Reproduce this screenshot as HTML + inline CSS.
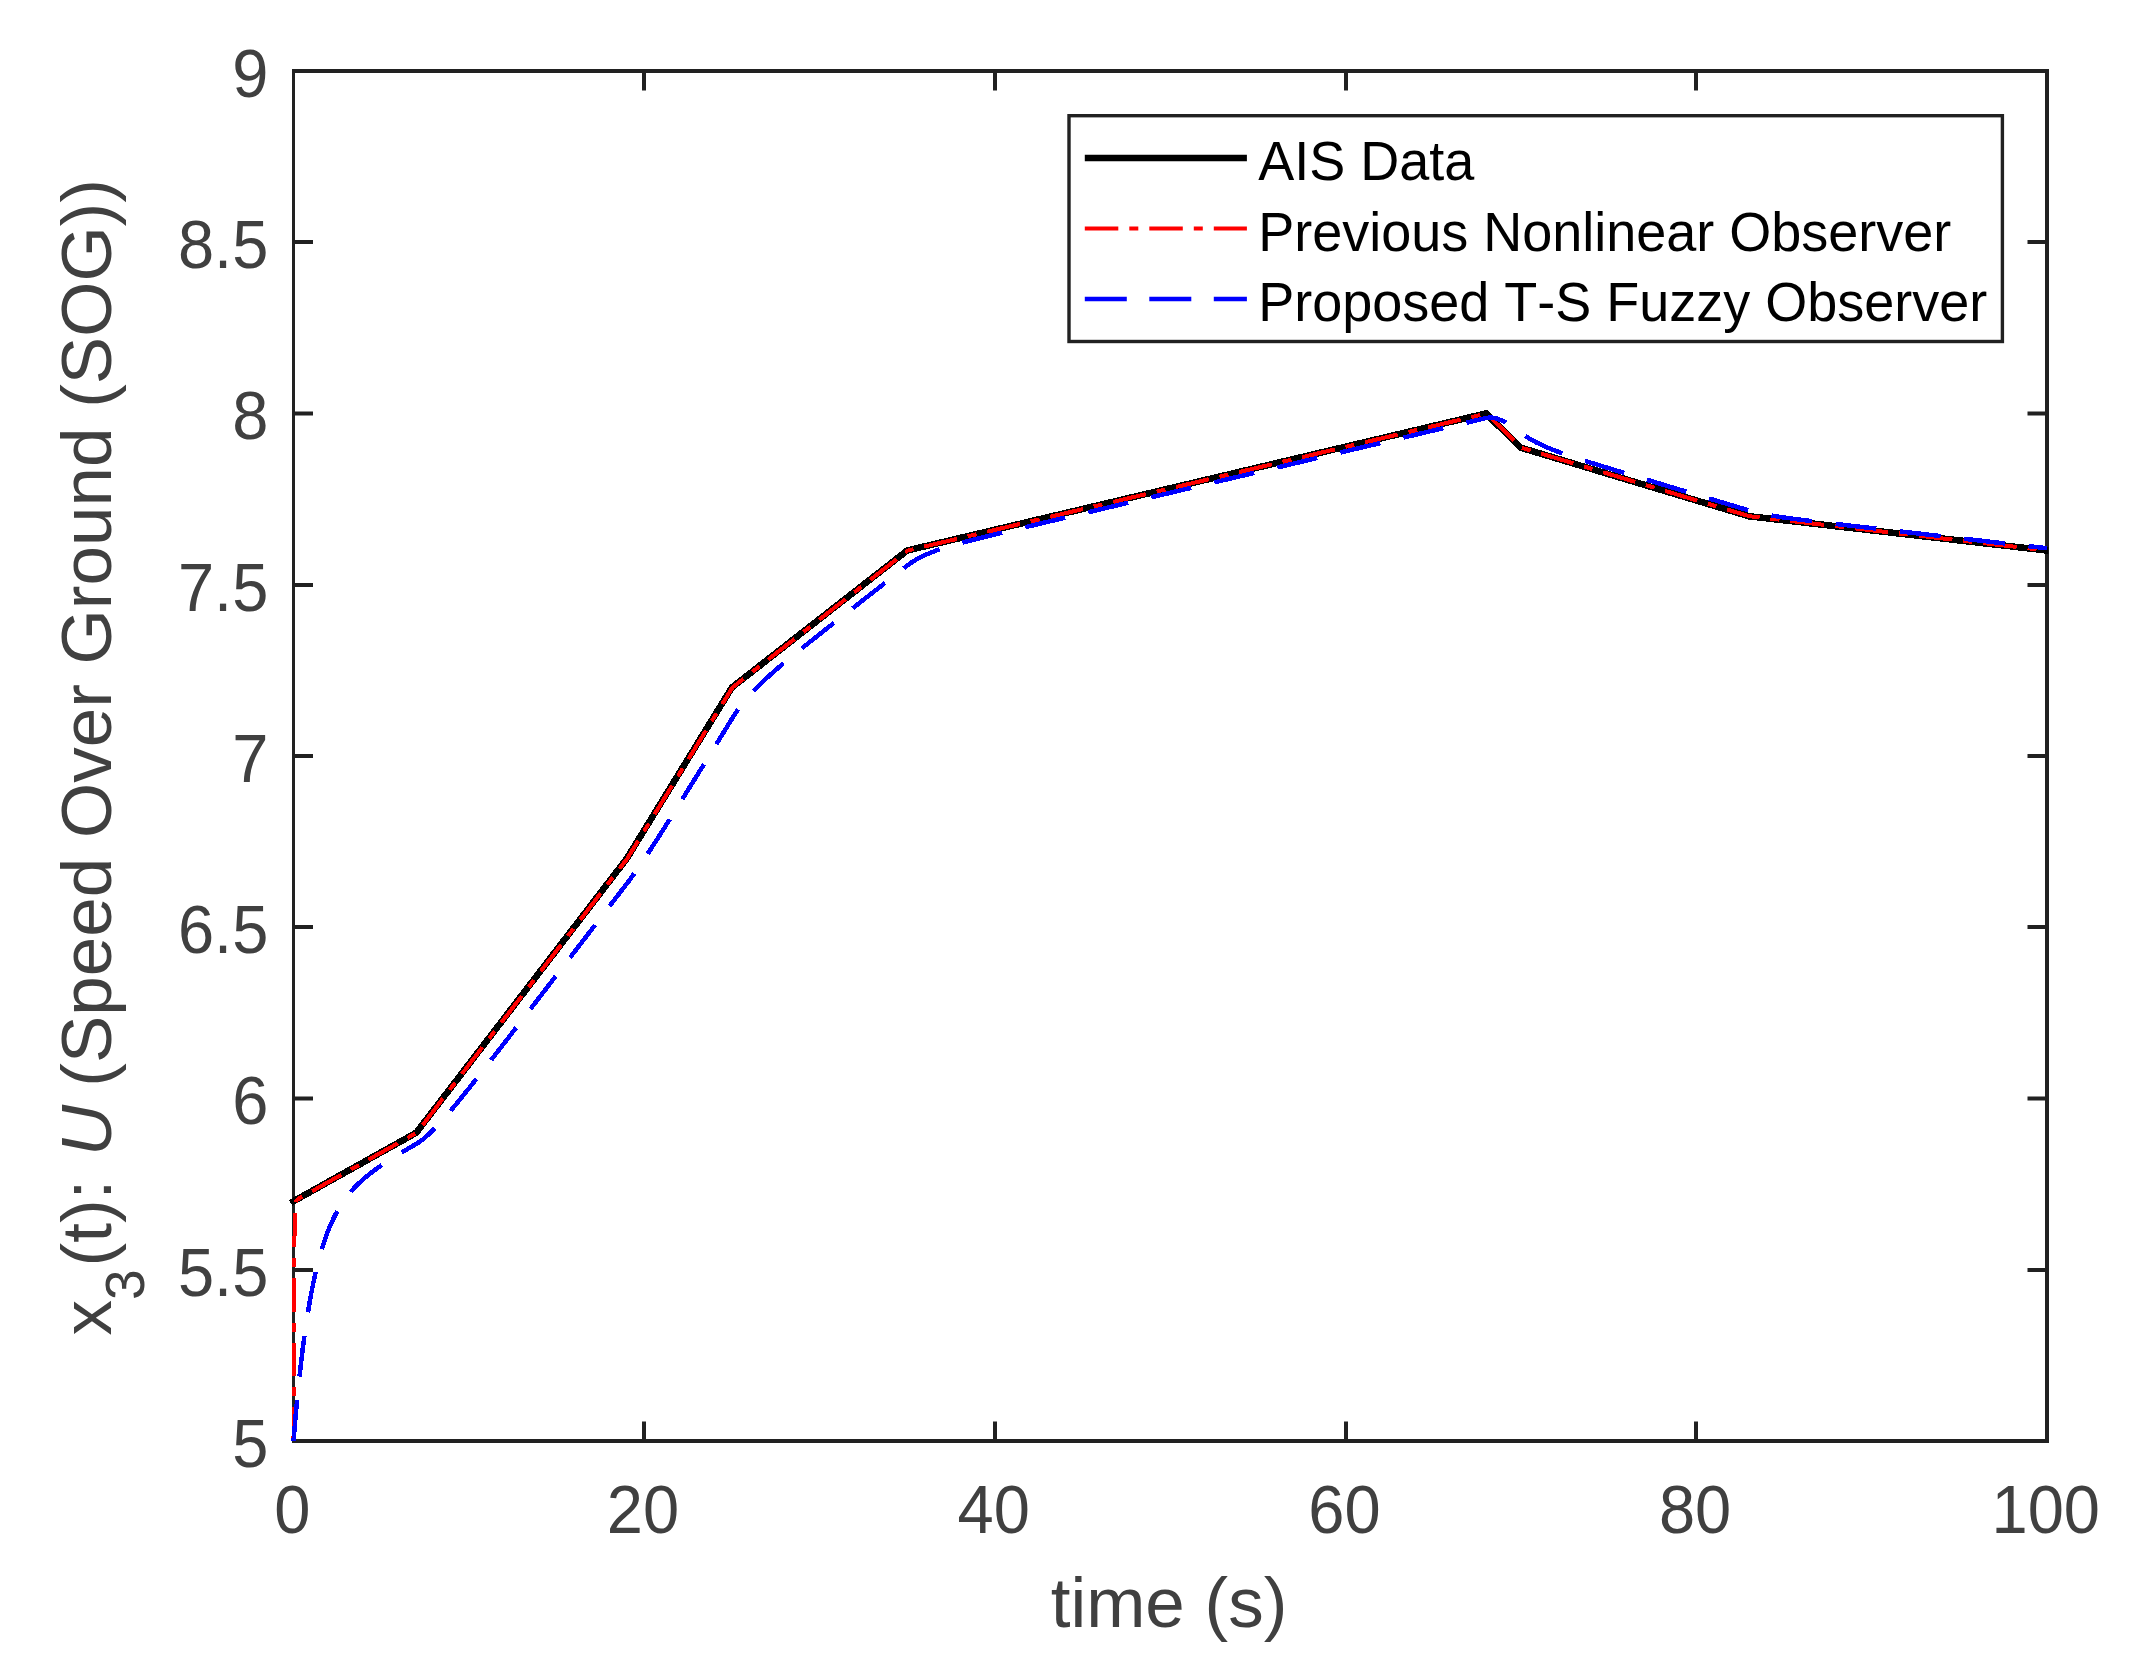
<!DOCTYPE html>
<html lang="en"><head><meta charset="utf-8"><title>x3(t): U (Speed Over Ground (SOG))</title>
<style>html,body{margin:0;padding:0;background:#fff}body{width:2131px;height:1661px;overflow:hidden}svg{display:block}text{font-family:'Liberation Sans', Arial, Helvetica, sans-serif;font-kerning:none}</style></head><body>
<svg width="2131" height="1661" viewBox="0 0 2131 1661">
<rect width="2131" height="1661" fill="#fff"/>
<g fill="#212121">
<rect x="292" y="69" width="3" height="1374"/>
<rect x="2045" y="69" width="4" height="1374"/>
<rect x="292" y="69" width="1757" height="4"/>
<rect x="292" y="1439" width="1757" height="4"/>
</g>
<g stroke="#212121" stroke-width="4" fill="none">
<path d="M644.00 1441.00V1421.50M644.00 71.00V90.50"/>
<path d="M995.00 1441.00V1421.50M995.00 71.00V90.50"/>
<path d="M1346.00 1441.00V1421.50M1346.00 71.00V90.50"/>
<path d="M1696.00 1441.00V1421.50M1696.00 71.00V90.50"/>
<path d="M293.50 1270.00H313.00M2047.00 1270.00H2027.50"/>
<path d="M293.50 1098.50H313.00M2047.00 1098.50H2027.50"/>
<path d="M293.50 927.00H313.00M2047.00 927.00H2027.50"/>
<path d="M293.50 756.00H313.00M2047.00 756.00H2027.50"/>
<path d="M293.50 585.00H313.00M2047.00 585.00H2027.50"/>
<path d="M293.50 413.50H313.00M2047.00 413.50H2027.50"/>
<path d="M293.50 242.00H313.00M2047.00 242.00H2027.50"/>
</g>
<g fill="#404040" font-size="65">
<text transform="translate(292.30 1533.3) scale(1 1.04)" text-anchor="middle">0</text>
<text transform="translate(643.00 1533.3) scale(1 1.04)" text-anchor="middle">20</text>
<text transform="translate(993.70 1533.3) scale(1 1.04)" text-anchor="middle">40</text>
<text transform="translate(1344.40 1533.3) scale(1 1.04)" text-anchor="middle">60</text>
<text transform="translate(1695.10 1533.3) scale(1 1.04)" text-anchor="middle">80</text>
<text transform="translate(2045.80 1533.3) scale(1 1.04)" text-anchor="middle">100</text>
<text transform="translate(268.3 1466.80) scale(1 1.04)" text-anchor="end">5</text>
<text transform="translate(268.3 1295.55) scale(1 1.04)" text-anchor="end">5.5</text>
<text transform="translate(268.3 1124.30) scale(1 1.04)" text-anchor="end">6</text>
<text transform="translate(268.3 953.05) scale(1 1.04)" text-anchor="end">6.5</text>
<text transform="translate(268.3 781.80) scale(1 1.04)" text-anchor="end">7</text>
<text transform="translate(268.3 610.55) scale(1 1.04)" text-anchor="end">7.5</text>
<text transform="translate(268.3 439.30) scale(1 1.04)" text-anchor="end">8</text>
<text transform="translate(268.3 268.05) scale(1 1.04)" text-anchor="end">8.5</text>
<text transform="translate(268.3 96.80) scale(1 1.04)" text-anchor="end">9</text>
</g>
<g fill="#404040" font-size="71">
<text x="1169" y="1626.5" text-anchor="middle">time (s)</text>
<text transform="translate(111.3 1335.5) rotate(-90)" x="0" y="0">x<tspan font-size="55" dy="32.2">3</tspan><tspan x="69.1" dy="-32.2">(t): </tspan><tspan font-style="italic" dx="3.9">U</tspan><tspan dx="-1.6"> (Speed Over Ground (SOG))</tspan></text>
</g>
<defs><clipPath id="c"><rect x="280" y="60" width="1768.3" height="1383"/></clipPath></defs>
<g fill="none" clip-path="url(#c)" stroke-linejoin="miter" shape-rendering="crispEdges">
<path d="M293.5 1201.25L416.25 1132.75L626.66 858.75L731.88 687.5L907.23 550.5L1485.88 413.5L1520.95 447.75L1748.9 516.25L2047 550.5" stroke="#000" stroke-width="6.6" stroke-linecap="square"/>
<path d="M293.5 1441L293.85 1324.29L294.2 1264.27L294.55 1233.36L294.9 1217.4L295.25 1209.11L295.6 1204.76L295.97 1202.34L296.36 1200.99L296.8 1200.16L297.39 1199.52L298.62 1198.7L416.47 1132.88L417.38 1131.91L627.12 858.79L637.19 842.48L732.16 687.95L733.03 687.06L741.92 680.06L907.51 550.73L908.49 550.35L1486.04 413.61L1486.51 413.8L1487.55 414.64L1521.21 447.46L1522.05 447.88L1528.7 449.92L1749.38 516.2L1757.64 517.19L2047 550.44" stroke="#f00" stroke-width="4" stroke-dasharray="33.6 11 9.1 11"/>
<path d="M293.5 1441L295.67 1415.38L297.88 1392L300.09 1371.02L302.3 1352.18L304.51 1335.25L306.76 1319.78L309 1305.88L311.28 1293.18L313.56 1281.76L315.87 1271.31L318.22 1261.77L320.57 1253.17L322.96 1245.29L325.38 1238.08L327.87 1231.38L330.39 1225.24L332.99 1219.54L335.65 1214.23L338.39 1209.3L341.23 1204.66L344.21 1200.23L347.33 1196.02L350.63 1191.98L354.14 1188.05L357.89 1184.21L361.96 1180.39L366.41 1176.55L371.39 1172.58L377 1168.43L383.49 1163.95L391.24 1158.91L400.85 1152.98L413.58 1145.45L418 1142.84L421.01 1140.76L424.38 1138.12L428.13 1134.85L432.38 1130.81L437.25 1125.82L442.93 1119.62L449.7 1111.84L458.05 1101.83L468.85 1088.45L484 1069.22L509.39 1036.46L594.51 925.74L629.23 880.48L634.87 872.68L641.6 862.93L649.88 850.47L660.58 833.86L675.55 810.07L700.42 769.96L733.59 716.14L737 711.07L740.64 706.07L744.54 701.13L748.78 696.15L753.44 691.05L758.67 685.7L764.6 679.99L771.54 673.67L779.89 666.41L790.48 657.57L805 645.81L828.32 627.33L891.58 577.79L908.94 564.27L912.45 561.84L916.24 559.52L920.38 557.27L924.94 555.07L930.06 552.88L935.91 550.65L942.79 548.31L951.1 545.76L961.65 542.81L976.21 539.03L999.7 533.26L1064.58 517.81L1486.86 417.86L1488.9 417.62L1491.04 417.61L1493.31 417.84L1495.77 418.34L1498.44 419.13L1501.31 420.25L1504.5 421.76L1508.01 423.71L1511.97 426.2L1516.46 429.32L1523.97 434.96L1527.82 437.55L1532.03 440.08L1536.7 442.6L1541.96 445.16L1547.99 447.8L1555.07 450.63L1563.74 453.81L1574.85 457.59L1590.46 462.59L1616.9 470.72L1716.57 500.74L1751.61 511.23L1757.46 512.72L1764.34 514.2L1772.68 515.72L1783.31 517.39L1797.97 519.39L1821.82 522.33L1889.82 530.22L2047 548.28" stroke="#00f" stroke-width="4.5" stroke-dasharray="41 23.75"/>
</g>
<rect x="1069" y="115.7" width="933.4" height="225.8" fill="#fff" stroke="#212121" stroke-width="3.4"/>
<g fill="none">
<path d="M1084.8 158H1246.9" stroke="#000" stroke-width="6.6"/>
<path d="M1084.8 228.5H1246.9" stroke="#f00" stroke-width="4" stroke-dasharray="33.5 11 9 11"/>
<path d="M1084.8 299H1246.9" stroke="#00f" stroke-width="4.5" stroke-dasharray="42 22.5"/>
</g>
<g fill="#000" font-size="54">
<text transform="translate(1258.2 180) scale(1 1.03)">AIS Data</text>
<text transform="translate(1258.2 250.6) scale(1 1.03)">Previous Nonlinear Observer</text>
<text transform="translate(1258.2 320.5) scale(1 1.03)">Proposed T-S Fuzzy Observer</text>
</g>
</svg></body></html>
